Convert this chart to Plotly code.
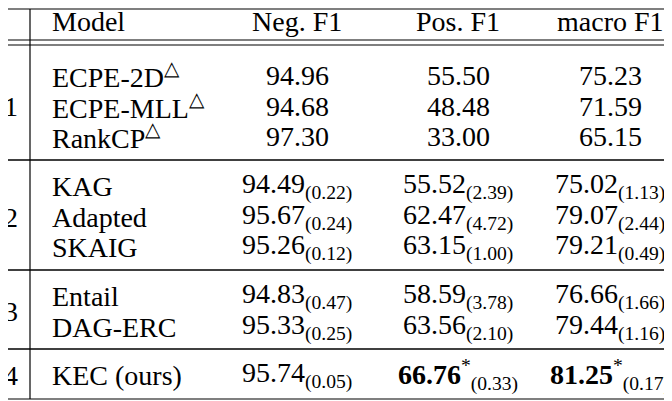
import plotly.graph_objects as go

headers = ["Model", "Neg. F1", "Pos. F1", "macro F1"]
groups = ["1", "2", "3", "4"]
models = [
    ["ECPE-2D<sup>△</sup>", "ECPE-MLL<sup>△</sup>", "RankCP<sup>△</sup>"],
    ["KAG", "Adapted", "SKAIG"],
    ["Entail", "DAG-ERC"],
    ["KEC (ours)"],
]
neg_f1 = [
    ["94.96", "94.68", "97.30"],
    ["94.49<sub>(0.22)</sub>", "95.67<sub>(0.24)</sub>", "95.26<sub>(0.12)</sub>"],
    ["94.83<sub>(0.47)</sub>", "95.33<sub>(0.25)</sub>"],
    ["95.74<sub>(0.05)</sub>"],
]
pos_f1 = [
    ["55.50", "48.48", "33.00"],
    ["55.52<sub>(2.39)</sub>", "62.47<sub>(4.72)</sub>", "63.15<sub>(1.00)</sub>"],
    ["58.59<sub>(3.78)</sub>", "63.56<sub>(2.10)</sub>"],
    ["<b>66.76</b><sup>*</sup><sub>(0.33)</sub>"],
]
macro_f1 = [
    ["75.23", "71.59", "65.15"],
    ["75.02<sub>(1.13)</sub>", "79.07<sub>(2.44)</sub>", "79.21<sub>(0.49)</sub>"],
    ["76.66<sub>(1.66)</sub>", "79.44<sub>(1.16)</sub>"],
    ["<b>81.25</b><sup>*</sup><sub>(0.17)</sub>"],
]

W, H = 672, 401
OFF = 8  # page body margin
font = dict(family="Liberation Serif", size=28, color="black")
col_x = [297, 458, 610]
row_y = [[75, 106, 136], [186, 217, 247], [296, 327], [375]]
group_y = [106, 217, 311, 375]
seps = [160, 270, 349]

fig = go.Figure()
fig.add_trace(go.Scatter(x=[OFF], y=[OFF], mode="markers", marker=dict(opacity=0), hoverinfo="skip"))

ann = []
ann.append(dict(x=50, y=21, text=headers[0], xanchor="left"))
for h, x in zip(headers[1:], col_x):
    ann.append(dict(x=x, y=21, text=h, xanchor="center"))
for g in range(len(groups)):
    ann.append(dict(x=11, y=group_y[g], text=groups[g], xanchor="center"))
    for r, y in enumerate(row_y[g]):
        ann.append(dict(x=50, y=y, text=models[g][r], xanchor="left"))
        for col, x in zip([neg_f1, pos_f1, macro_f1], col_x):
            ann.append(dict(x=x, y=y, text=col[g][r], xanchor="center"))
for a in ann:
    a.update(xref="x", yref="y", showarrow=False, yanchor="middle", font=font)

shapes = []
def hline(y, w=1.2):
    shapes.append(dict(type="line", xref="x", yref="y", x0=0, x1=W + OFF, y0=y, y1=y,
                       line=dict(color="black", width=w)))
hline(1.5 + OFF if False else 9)
hline(40)
hline(45)
for s in seps:
    hline(s, 1.5)
hline(399)
shapes.append(dict(type="line", xref="x", yref="y", x0=30, x1=30, y0=9, y1=399,
                   line=dict(color="black", width=1.2)))

fig.update_layout(
    width=W, height=H, margin=dict(l=0, r=0, t=0, b=0),
    paper_bgcolor="white", plot_bgcolor="white", showlegend=False,
    annotations=ann, shapes=shapes,
    xaxis=dict(range=[OFF, W + OFF], visible=False, fixedrange=True),
    yaxis=dict(range=[H + OFF, OFF], visible=False, fixedrange=True),
)
fig.write_html("out.html")
